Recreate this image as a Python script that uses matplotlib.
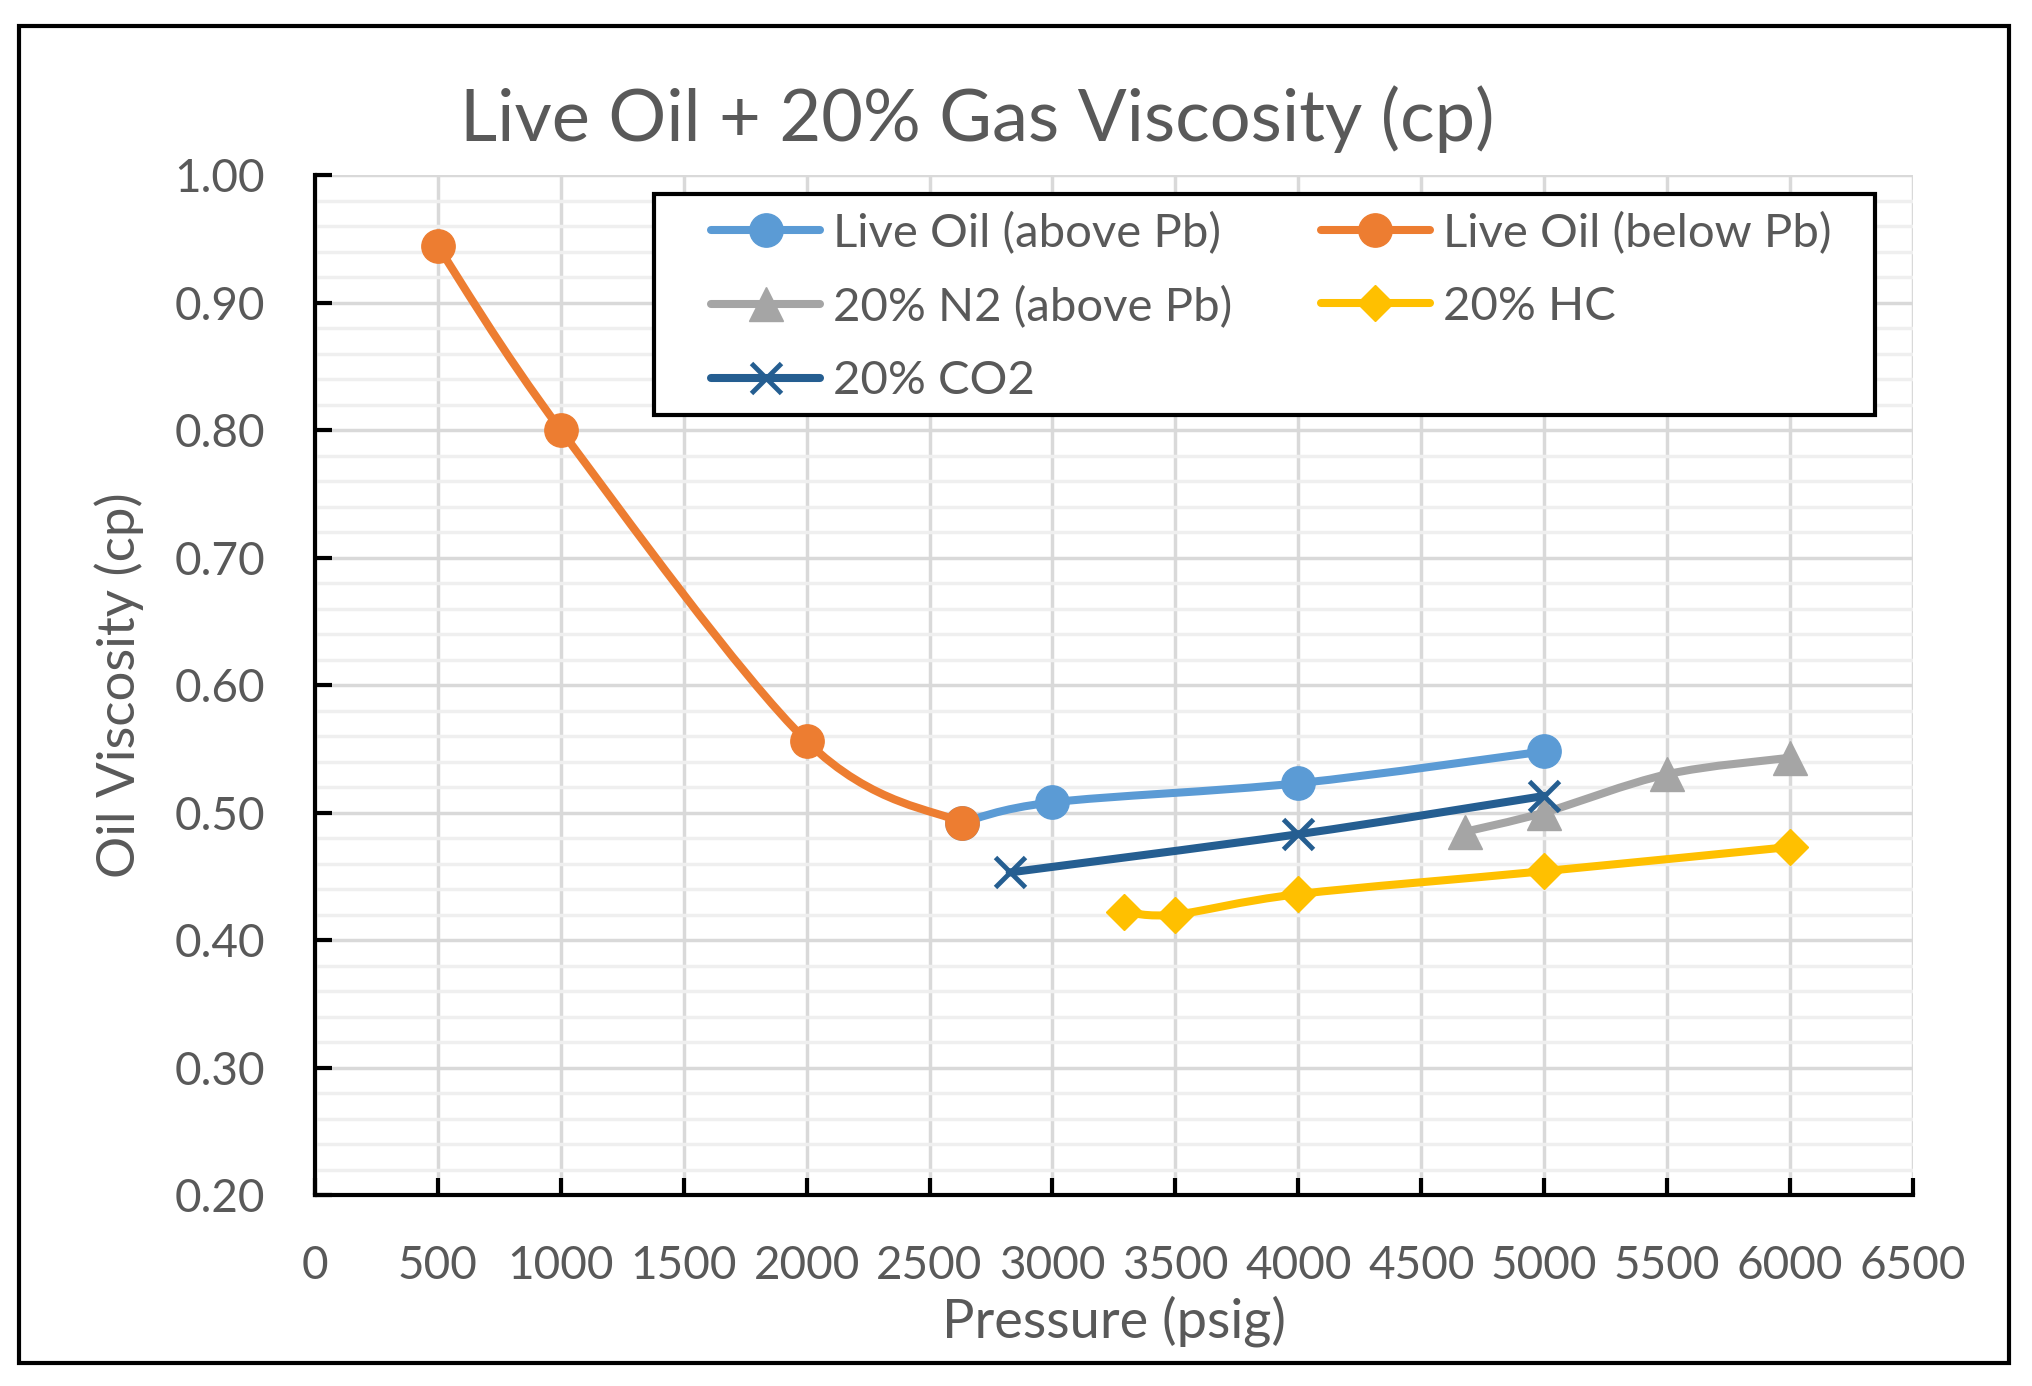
import matplotlib
matplotlib.use("Agg")
import matplotlib.pyplot as plt
from matplotlib.path import Path
from matplotlib.patches import PathPatch, Rectangle
from matplotlib.lines import Line2D
from matplotlib.ticker import MultipleLocator

plt.rcParams['font.family'] = ['Lato', 'DejaVu Sans']

# data
live_above_p = [2630, 3000, 4000, 5000]
live_above_v = [0.492, 0.508, 0.523, 0.548]
live_below_p = [500, 1000, 2000, 2630]
live_below_v = [0.944, 0.800, 0.556, 0.492]
n2_p = [4680, 5000, 5500, 6000]
n2_v = [0.485, 0.500, 0.530, 0.543]
hc_p = [3290, 3500, 4000, 5000, 6000]
hc_v = [0.422, 0.420, 0.436, 0.454, 0.473]
co2_p = [2826, 4000, 5000]
co2_v = [0.453, 0.483, 0.513]

TXT = '#595959'


def smooth_path(xs, ys):
    # excel-like smoothed line: cubic bezier through the points
    pts = list(zip(xs, ys))
    verts = [pts[0]]
    codes = [Path.MOVETO]
    n = len(pts)
    for i in range(n - 1):
        p0 = pts[i - 1] if i > 0 else pts[i]
        p1 = pts[i]
        p2 = pts[i + 1]
        p3 = pts[i + 2] if i + 2 < n else pts[i + 1]
        c1 = (p1[0] + (p2[0] - p0[0]) / 6, p1[1] + (p2[1] - p0[1]) / 6)
        c2 = (p2[0] - (p3[0] - p1[0]) / 6, p2[1] - (p3[1] - p1[1]) / 6)
        verts += [c1, c2, p2]
        codes += [Path.CURVE4] * 3
    return Path(verts, codes)


fig = plt.figure(figsize=(20.32, 13.86), dpi=100)
ax = fig.add_axes([0.155, 0.1378, 0.7864, 0.7359])

series = [
    (live_above_p, live_above_v, '#5B9BD5', 'o', 24, 'Live Oil (above Pb)', 3),
    (live_below_p, live_below_v, '#ED7D31', 'o', 24, 'Live Oil (below Pb)', 5),
    (n2_p, n2_v, '#A5A5A5', '^', 24, '20% N2 (above Pb)', 3),
    (hc_p, hc_v, '#FFC000', 'D', 18, '20% HC', 3),
    (co2_p, co2_v, '#255E91', 'x', 22, '20% CO2', 4),
]

handles = {}
for xs, ys, col, mk, ms, name, z in series:
    ax.add_patch(PathPatch(smooth_path(xs, ys), fill=False, edgecolor=col,
                           lw=5.8, capstyle='round', zorder=z))
    ax.plot(xs, ys, linestyle='none', marker=mk, markersize=ms, color=col,
            mec=col, mew=3.5 if mk == 'x' else 1, zorder=z + 0.5)
    handles[name] = Line2D([], [], color=col, lw=5.8, marker=mk, markersize=ms,
                           mec=col, mew=3.5 if mk == 'x' else 1,
                           solid_capstyle='round', label=name)

ax.set_xlim(0, 6500)
ax.set_ylim(0.20, 1.00)
ax.xaxis.set_major_locator(MultipleLocator(500))
ax.yaxis.set_major_locator(MultipleLocator(0.10))
ax.yaxis.set_minor_locator(MultipleLocator(0.02))
ax.yaxis.set_major_formatter(matplotlib.ticker.FormatStrFormatter('%.2f'))

ax.grid(True, which='major', color='#D9D9D9', lw=2.5, zorder=0)
ax.grid(True, which='minor', axis='y', color='#EFEFEF', lw=2.5, zorder=0)
ax.set_axisbelow(True)

for s in ['top', 'right']:
    ax.spines[s].set_visible(False)
for s in ['left', 'bottom']:
    ax.spines[s].set_linewidth(3)
    ax.spines[s].set_color('black')

ax.tick_params(which='major', direction='in', length=12, width=3,
               colors='black', labelcolor=TXT, labelsize=33)
ax.tick_params(axis='x', pad=36)
ax.tick_params(axis='y', pad=36)
ax.tick_params(which='minor', length=0)

ax.set_xlabel('Pressure (psig)', fontsize=39, color=TXT, labelpad=6)
ax.set_ylabel('Oil Viscosity (cp)', fontsize=38, color=TXT, labelpad=22)

fig.text(0.481, 0.898, 'Live Oil + 20% Gas Viscosity (cp)', fontsize=52,
         color=TXT, ha='center', va='baseline')

# legend box drawn by hand so the inner margins match
ax.add_patch(Rectangle((0.212, 0.765), 0.764, 0.216, transform=ax.transAxes,
                       facecolor='white', edgecolor='black', lw=3, zorder=6,
                       clip_on=False))

# row-major order as in the source legend
order = ['Live Oil (above Pb)', '20% N2 (above Pb)', '20% CO2',
         'Live Oil (below Pb)', '20% HC']
leg = ax.legend(handles=[handles[k] for k in order], ncol=2, loc='upper left',
                bbox_to_anchor=(0.248, 0.964), borderaxespad=0, fontsize=34,
                frameon=False, handlelength=2.3, handletextpad=0.28,
                columnspacing=1.88, labelspacing=0.66, borderpad=0,
                labelcolor=TXT)
leg.set_zorder(7)

fig.patches.append(Rectangle((0.0094, 0.0166), 0.9793, 0.9644,
                             transform=fig.transFigure, fill=False,
                             edgecolor='black', lw=3))

fig.savefig('out.png', dpi=100)
